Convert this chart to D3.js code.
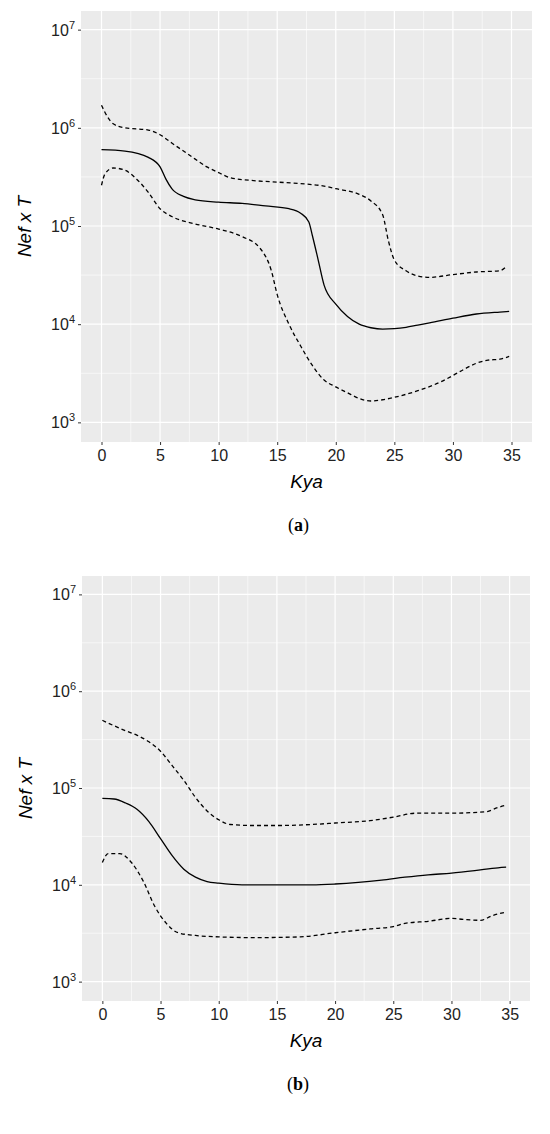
<!DOCTYPE html>
<html>
<head>
<meta charset="utf-8">
<script src="https://cdn.jsdelivr.net/npm/d3@7"></script>
<style>
  body { margin: 0; background: #fff; }
  text { font-family: "Liberation Sans", Arial, sans-serif; }
</style>
</head>
<body>
<svg id="chart" width="550" height="1134"></svg>
<script>
// panel (a)
const midA = [[0,6e5],[2,5.8e5],[4,5e5],[5,4e5],[5.5,3e5],[6,2.4e5],[7,2e5],[8,1.85e5],[10,1.75e5],[12,1.7e5],[14,1.6e5],[16,1.5e5],[17,1.35e5],[17.7,1.1e5],[18,8e4],[18.5,4.5e4],[19,2.5e4],[20,1.6e4],[21,1.2e4],[22,1e4],[23,9.2e3],[24,8.9e3],[25,9e3],[26,9.3e3],[27,9.8e3],[28,1.03e4],[30,1.15e4],[32,1.27e4],[34,1.33e4],[34.8,1.35e4]];
const upA = [[0,1.7e6],[0.5,1.3e6],[1,1.1e6],[2,1.0e6],[4,9.5e5],[5,8.5e5],[6,7e5],[7,5.8e5],[8,4.8e5],[9,4e5],[10,3.5e5],[11,3.1e5],[13,2.9e5],[15,2.8e5],[17,2.7e5],[19,2.55e5],[20,2.4e5],[22,2.1e5],[23,1.8e5],[24,1.3e5],[24.5,7e4],[25,4.5e4],[26,3.5e4],[27,3.1e4],[28,3e4],[30,3.2e4],[32,3.4e4],[34,3.5e4],[34.6,3.9e4]];
const lowA = [[0,2.6e5],[0.3,3.4e5],[1,3.9e5],[2,3.7e5],[3,3e5],[4,2.2e5],[5,1.5e5],[6,1.25e5],[8,1.05e5],[10,9.3e4],[12,7.8e4],[13.5,6e4],[14.5,3.5e4],[15,2e4],[16,1e4],[17,6e3],[18,3.8e3],[19,2.7e3],[20,2.3e3],[21,2e3],[22,1.75e3],[23,1.65e3],[24,1.7e3],[25,1.8e3],[27,2.1e3],[29,2.6e3],[30,3e3],[31,3.5e3],[32,4e3],[33,4.3e3],[34,4.4e3],[34.8,4.7e3]];
// panel (b)
const midB = [[0,7.8e4],[1,7.7e4],[2,7e4],[3,6e4],[4,4.5e4],[5,3e4],[6,2e4],[7,1.45e4],[8,1.2e4],[9,1.08e4],[10,1.04e4],[12,1e4],[15,1e4],[18,1e4],[20,1.02e4],[22,1.06e4],[24,1.12e4],[26,1.2e4],[28,1.27e4],[30,1.32e4],[32,1.4e4],[34,1.5e4],[34.7,1.52e4]];
const upB = [[0,5e5],[1,4.4e5],[2,3.9e5],[3,3.5e5],[4,3e5],[5,2.4e5],[6,1.7e5],[7,1.2e5],[8,8e4],[9,5.8e4],[10,4.7e4],[11,4.2e4],[13,4.1e4],[15,4.1e4],[18,4.2e4],[20,4.35e4],[23,4.6e4],[25,5e4],[27,5.5e4],[30,5.5e4],[33,5.7e4],[34,6.3e4],[34.6,6.6e4]];
const lowB = [[0,1.7e4],[0.5,2.1e4],[1.5,2.1e4],[2.5,1.7e4],[3.5,1.1e4],[4.5,6e3],[5.5,4e3],[6.5,3.2e3],[8,3e3],[10,2.9e3],[13,2.85e3],[17,2.9e3],[20,3.2e3],[23,3.5e3],[25,3.7e3],[26,4e3],[28,4.2e3],[30,4.5e3],[31,4.4e3],[32.5,4.3e3],[33.5,4.8e3],[34.6,5.2e3]];

const xTicks = [0, 5, 10, 15, 20, 25, 30, 35];
const xMinor = [2.5, 7.5, 12.5, 17.5, 22.5, 27.5, 32.5];
const yExp = [3, 4, 5, 6, 7];

const svg = d3.select("#chart");

function drawPanel(box, series, label) {
  const x = d3.scaleLinear().domain([-1.75, 36.75]).range([box.left, box.right]);
  const y = d3.scaleLog().domain([Math.pow(10, 2.8), Math.pow(10, 7.19)]).range([box.bottom, box.top]);
  const g = svg.append("g");

  g.append("rect")
    .attr("x", box.left).attr("y", box.top)
    .attr("width", box.right - box.left).attr("height", box.bottom - box.top)
    .attr("fill", "#EBEBEB");

  // minor grid
  xMinor.forEach(v => g.append("line").attr("x1", x(v)).attr("x2", x(v))
    .attr("y1", box.top).attr("y2", box.bottom).attr("stroke", "#fff").attr("stroke-width", 0.6));
  yExp.slice(0, -1).forEach(e => {
    const yy = y(Math.pow(10, e + 0.5));
    g.append("line").attr("x1", box.left).attr("x2", box.right).attr("y1", yy).attr("y2", yy)
      .attr("stroke", "#fff").attr("stroke-width", 0.6);
  });
  // major grid
  xTicks.forEach(v => g.append("line").attr("x1", x(v)).attr("x2", x(v))
    .attr("y1", box.top).attr("y2", box.bottom).attr("stroke", "#fff").attr("stroke-width", 1.2));
  yExp.forEach(e => {
    const yy = y(Math.pow(10, e));
    g.append("line").attr("x1", box.left).attr("x2", box.right).attr("y1", yy).attr("y2", yy)
      .attr("stroke", "#fff").attr("stroke-width", 1.2);
  });

  // axes
  const xAxis = g.append("g").attr("transform", `translate(0,${box.bottom})`)
    .call(d3.axisBottom(x).tickValues(xTicks).tickSize(3).tickPadding(5));
  xAxis.select(".domain").remove();
  xAxis.selectAll("line").attr("stroke", "#333");
  xAxis.selectAll("text").attr("font-size", 16).attr("fill", "#222")
    .style("font-family", "Liberation Sans, Arial, sans-serif");

  const yAxis = g.append("g").attr("transform", `translate(${box.left},0)`)
    .call(d3.axisLeft(y).tickValues(yExp.map(e => Math.pow(10, e))).tickSize(3).tickPadding(4).tickFormat(""));
  yAxis.select(".domain").remove();
  yAxis.selectAll("line").attr("stroke", "#333");
  yExp.forEach(e => {
    const t = g.append("text").attr("x", box.left - 6).attr("y", y(Math.pow(10, e)) + 6)
      .attr("text-anchor", "end").attr("font-size", 16).attr("fill", "#222");
    t.append("tspan").text("10");
    t.append("tspan").attr("font-size", 11).attr("dy", -7).text(e);
  });

  g.append("text").attr("x", (box.left + box.right) / 2).attr("y", box.bottom + 46)
    .attr("text-anchor", "middle").attr("font-size", 19).attr("font-style", "italic").text("Kya");
  g.append("text")
    .attr("transform", `translate(${box.left - 50},${(box.top + box.bottom) / 2}) rotate(-90)`)
    .attr("text-anchor", "middle").attr("font-size", 19).attr("font-style", "italic").text("Nef x T");

  const line = d3.line().x(d => x(d[0])).y(d => y(d[1])).curve(d3.curveMonotoneX);
  series.forEach((s, i) => {
    g.append("path").attr("d", line(s)).attr("fill", "none").attr("stroke", "#000")
      .attr("stroke-width", 1.3).attr("stroke-dasharray", i === 0 ? null : "4,3");
  });

  const cap = g.append("text").attr("x", (box.left + box.right) / 2 - 8).attr("y", box.bottom + 89)
    .attr("text-anchor", "middle").attr("font-size", 18)
    .style("font-family", "Liberation Serif, Times New Roman, serif");
  cap.append("tspan").text("(");
  cap.append("tspan").attr("font-weight", "bold").text(label);
  cap.append("tspan").text(")");
}

drawPanel({ left: 81, right: 532, top: 11, bottom: 442 }, [midA, upA, lowA], "a");
drawPanel({ left: 82, right: 530, top: 576, bottom: 1001 }, [midB, upB, lowB], "b");
</script>
</body>
</html>
